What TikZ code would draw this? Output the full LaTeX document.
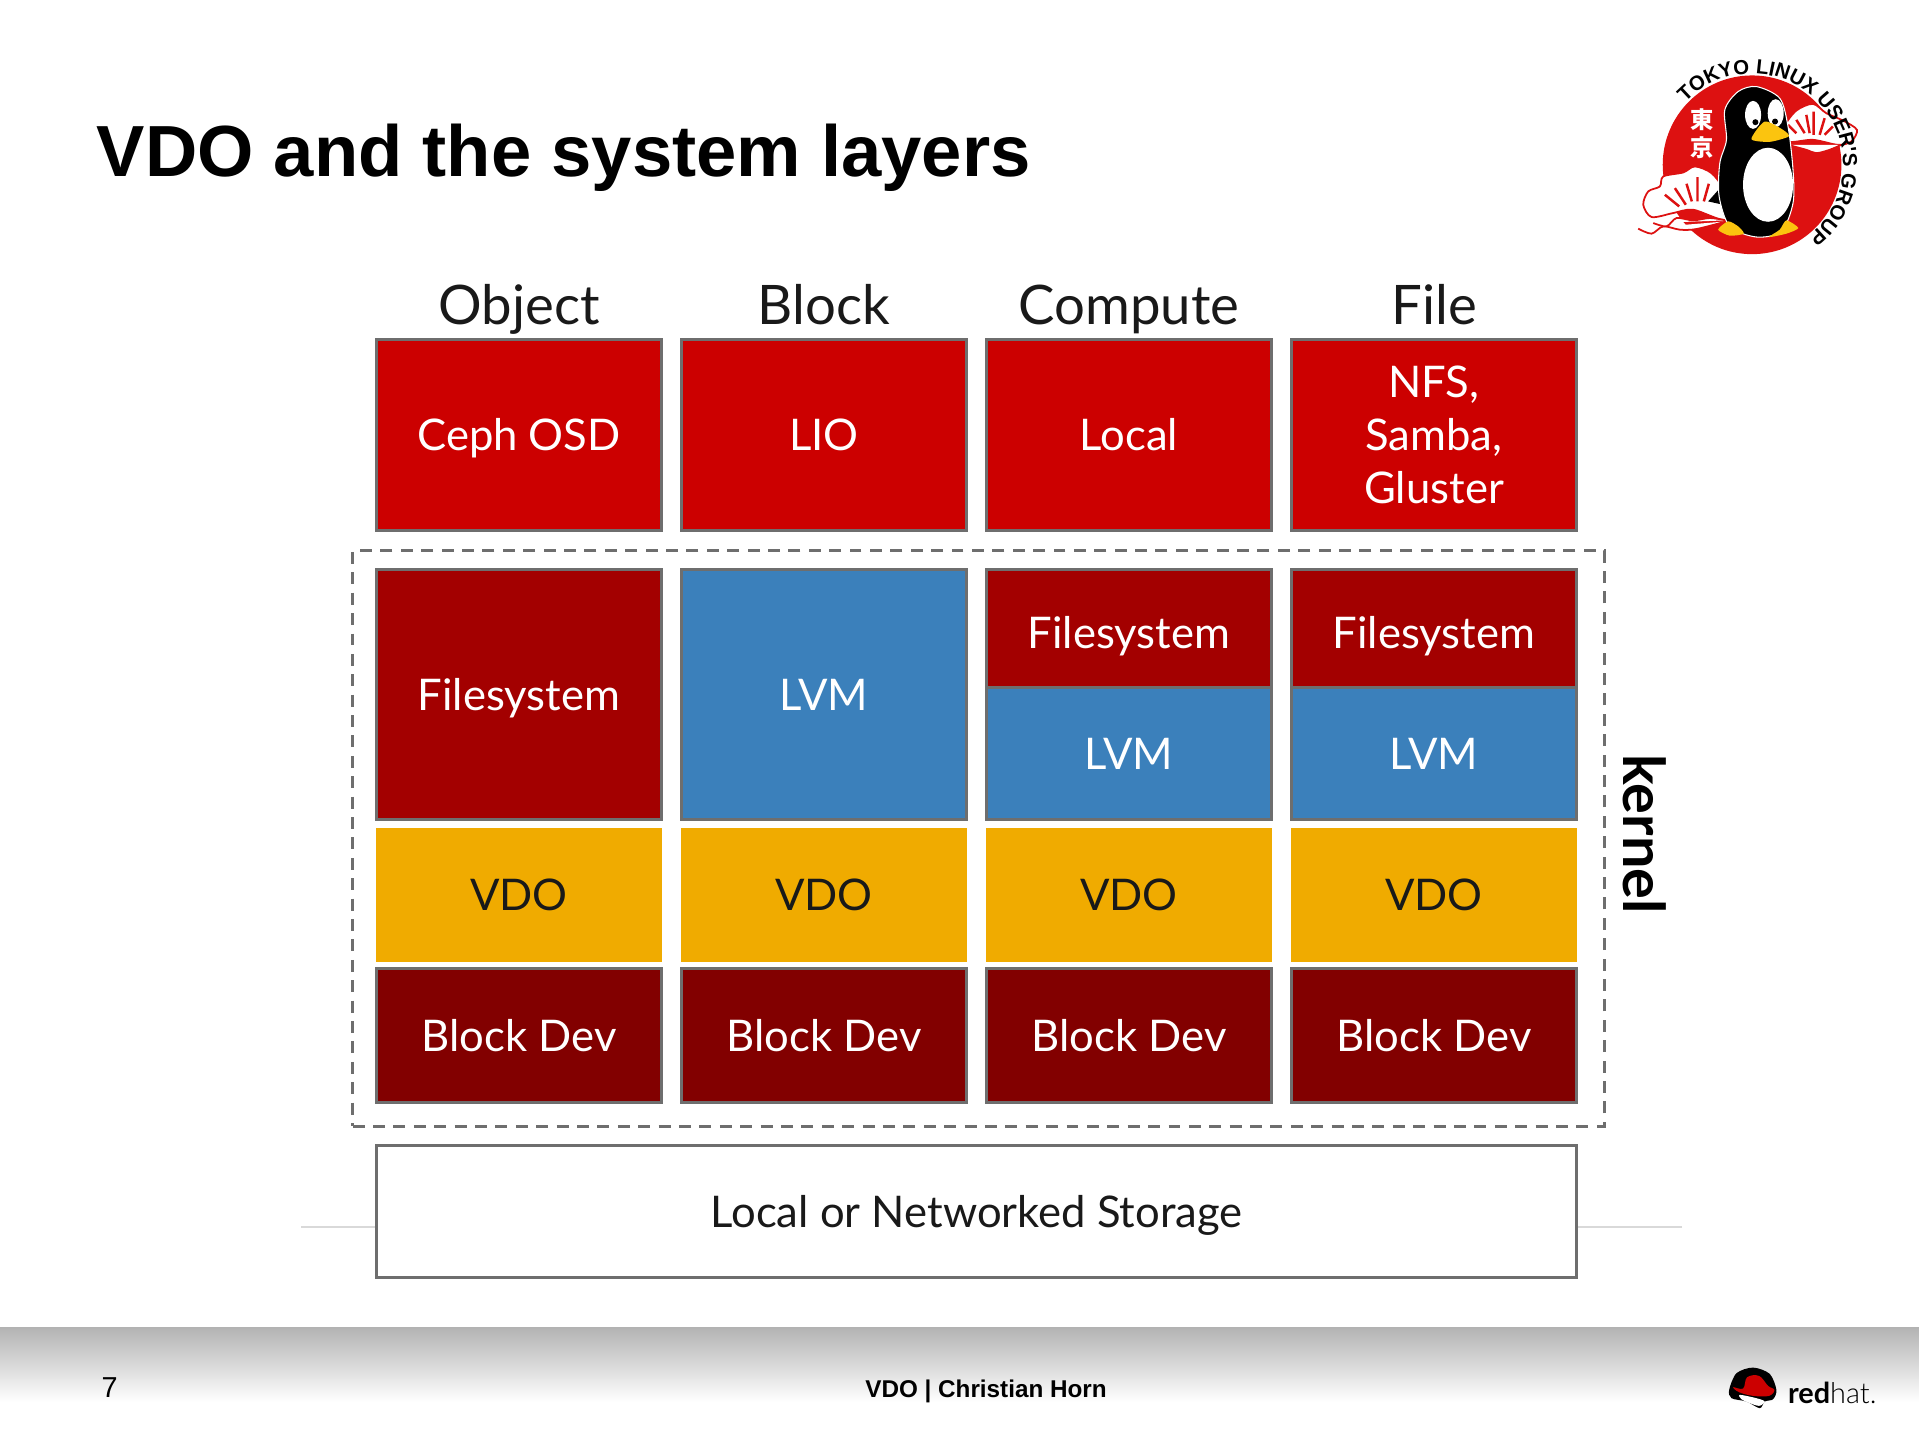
\documentclass[tikz,border=0pt]{standalone}
\usepackage{fontspec}
\usepackage{tikz}
\usetikzlibrary{decorations.text}
\setmainfont{Lato}
\newfontfamily\arialfont{Liberation Sans}
\newfontfamily\cjkfont{Noto Sans CJK JP}
\newfontfamily\hatfont{Lato Light}
\definecolor{redtop}{HTML}{CC0000}
\definecolor{redfs}{HTML}{A30000}
\definecolor{redblock}{HTML}{820000}
\definecolor{bluelvm}{HTML}{3B80BB}
\definecolor{yellowvdo}{HTML}{F0AB00}
\definecolor{edgegrey}{HTML}{6E6E6E}
\definecolor{logored}{HTML}{DD1111}
\definecolor{logoyellow}{HTML}{FBC40F}
\tikzstyle{stackblock} = [rectangle, draw=edgegrey, line width=0.85pt, text=white, inner sep=0pt,
    minimum width=2.84cm, align=center, font=\fontsize{12.4}{15}\selectfont]
\tikzstyle{layerblock} = [stackblock, text height=8.9pt, text depth=0pt]
\tikzstyle{vdoblock} = [layerblock, draw=none, text=black!90, fill=yellowvdo, minimum width=2.86cm, minimum height=1.34cm]
\tikzstyle{headlabel} = [anchor=base, inner sep=0pt, font=\fontsize{15.5}{18}\selectfont, text=black!90]
\tikzstyle{hairline} = [draw=black!15, line width=0.5pt]
\tikzstyle{logocloud} = [fill=white, draw=logored, line width=0.5pt]
\tikzstyle{logoray} = [draw=logored, line width=0.7pt]
\begin{document}
\begin{tikzpicture}[x=0.01cm,y=-0.01cm]
    \useasboundingbox (0,0) rectangle (1919,1439);
    \shade [top color=black!30, bottom color=white] (0,1327) rectangle (1919,1402);
    \node [anchor=base west, inner sep=0pt, font=\arialfont\bfseries\fontsize{20.6}{24}\selectfont] (title) at (96,176.5) {VDO and the system layers};

    % Column heads
    \node [headlabel] (headobject) at (519,324) {Object};
    \node [headlabel] (headblock) at (824,324) {Block};
    \node [headlabel] (headcompute) at (1129,324) {Compute};
    \node [headlabel] (headfile) at (1434,324) {File};

    % Top row
    \node [layerblock, fill=redtop, minimum height=1.9cm] (cephosd) at (519,435) {Ceph OSD};
    \node [layerblock, fill=redtop, minimum height=1.9cm] (lio) at (824,435) {LIO};
    \node [layerblock, fill=redtop, minimum height=1.9cm] (local) at (1129,435) {Local};
    \node [stackblock, fill=redtop, minimum height=1.9cm] (nfs) at (1434,435) {NFS,\\Samba,\\Gluster};

    % Kernel frame
    \node [rectangle, draw=edgegrey, line width=0.85pt, dash pattern=on 3.4pt off 2.4pt, minimum width=12.51cm, minimum height=5.75cm, inner sep=0pt] (kernelframe) at (978.5,838.5) {};
    \node [rotate=-90, font=\fontsize{16.4}{19}\selectfont\bfseries] (kernel) at (1645,834) {kernel};

    % Middle rows
    \node [layerblock, fill=redfs, minimum height=2.49cm] (fsobject) at (519,694.5) {Filesystem};
    \node [layerblock, fill=bluelvm, minimum height=2.49cm] (lvmblock) at (824,694.5) {LVM};
    \node [layerblock, fill=redfs, minimum height=1.26cm] (fscompute) at (1129,633) {Filesystem};
    \node [layerblock, fill=bluelvm, minimum height=1.31cm] (lvmcompute) at (1129,753.5) {LVM};
    \node [layerblock, fill=redfs, minimum height=1.26cm] (fsfile) at (1434,633) {Filesystem};
    \node [layerblock, fill=bluelvm, minimum height=1.31cm] (lvmfile) at (1434,753.5) {LVM};

    % VDO row
    \node [vdoblock] (vdoobject) at (519,895) {VDO};
    \node [vdoblock] (vdoblock) at (824,895) {VDO};
    \node [vdoblock] (vdocompute) at (1129,895) {VDO};
    \node [vdoblock] (vdofile) at (1434,895) {VDO};

    % Block devices
    \node [layerblock, fill=redblock, minimum height=1.33cm] (devobject) at (519,1035.5) {Block Dev};
    \node [layerblock, fill=redblock, minimum height=1.33cm] (devblock) at (824,1035.5) {Block Dev};
    \node [layerblock, fill=redblock, minimum height=1.33cm] (devcompute) at (1129,1035.5) {Block Dev};
    \node [layerblock, fill=redblock, minimum height=1.33cm] (devfile) at (1434,1035.5) {Block Dev};

    % Storage and its lines
    \coordinate (lineleft) at (301,1227);
    \coordinate (lineright) at (1682,1227);
    \node [layerblock, text=black!90, fill=white, minimum width=11.99cm, minimum height=1.31cm] (storage) at (976.5,1211.5) {Local or Networked Storage};
    \path [hairline] (lineleft) -- (lineleft -| storage.west);
    \path [hairline] (lineright) -- (lineright -| storage.east);

    % Footer
    \node [anchor=base west, inner sep=0pt, font=\arialfont\fontsize{8.2}{10}\selectfont] (pagenumber) at (101,1397) {7};
    \node [inner sep=0pt, font=\arialfont\bfseries\fontsize{6.9}{9}\selectfont] (footer) at (986,1391) {VDO | Christian Horn};

    % Tokyo logo, in units of the logo crop
    \begin{scope}[shift={(1580,30)},x=0.003333cm,y=-0.003333cm]
        \fill [logored] (517,405) circle (0.893cm);
        \path [logocloud] plot [smooth cycle] coordinates {(190,525) (205,485) (240,470) (250,440) (310,428) (345,410) (395,430) (430,480) (440,570) (340,540) (280,550) (215,562)};
        \path [logocloud] plot [smooth] coordinates {(175,597) (215,612) (250,590) (300,600) (350,598) (440,575)};
        \path [logocloud] plot [smooth] coordinates {(220,580) (260,590) (290,565) (340,572) (390,565) (440,572)};
        \path [logoray] (298,530) -- (255,495) (318,525) -- (285,475) (336,515) -- (320,462) (353,515) -- (353,442) (372,515) -- (387,462);
        \path [logocloud] plot [smooth cycle] coordinates {(615,290) (650,242) (700,222) (740,250) (790,272) (832,300) (815,335) (775,345) (700,330) (625,335)};
        \path [logocloud] plot [smooth] coordinates {(625,345) (680,360) (710,370) (750,360) (785,345)};
        \path [logoray] (625,285) -- (650,310) (650,270) -- (675,310) (680,255) -- (690,310) (702,245) -- (702,315) (735,265) -- (720,315) (760,290) -- (735,315);
        \fill [black] (385,515) -- (425,470) -- (430,525) -- cycle;
        \path [fill=black, draw=white, line width=0.3pt] plot [smooth cycle] coordinates {(530,170) (600,205) (625,290) (640,420) (640,520) (605,605) (530,622) (450,590) (418,500) (420,400) (440,330) (435,240) (475,185)};
        \fill [white] (565,465) ellipse [x radius=0.25cm, y radius=0.37cm];
        \fill [white] (520,255) ellipse [x radius=0.08cm, y radius=0.14cm];
        \fill [white] (588,250) ellipse [x radius=0.08cm, y radius=0.14cm];
        \fill [black] (527,277) circle (0.03cm);
        \fill [black] (586,275) circle (0.03cm);
        \fill [logoyellow] plot [smooth cycle, tension=0.4] coordinates {(515,328) (555,275) (610,300) (627,320) (570,336)};
        \fill [logoyellow] plot [smooth cycle, tension=0.4] coordinates {(415,600) (445,575) (475,590) (492,612) (450,618)};
        \fill [logoyellow] plot [smooth cycle, tension=0.4] coordinates {(568,622) (600,600) (620,572) (656,595) (620,612)};
        \node [text=white, inner sep=0pt, font=\cjkfont\bfseries\fontsize{6.6}{8}\selectfont] (kanjitou) at (368,268) {東};
        \node [text=white, inner sep=0pt, font=\cjkfont\bfseries\fontsize{6.6}{8}\selectfont] (kanjikyou) at (368,353) {京};
        \path [postaction={decorate}, decoration={text along path, text={|\arialfont\bfseries\fontsize{5.8}{7}\selectfont|TOKYO LINUX USER'S GROUP}}] (517,405) ++(137:0.91cm) arc [start angle=137, end angle=-75, radius=0.91cm];
    \end{scope}

    % Red Hat logo, in units of the footer crop
    \begin{scope}[shift={(1600,1300)},x=0.003333cm,y=-0.003333cm]
        \fill [black] plot [smooth cycle] coordinates {(388,270) (410,220) (460,203) (510,222) (530,270) (520,298) (495,305) (480,325) (440,305) (395,295)};
        \fill [white] plot [smooth cycle, tension=0.5] coordinates {(420,285) (470,295) (495,305) (478,318) (445,308) (425,298)};
        \fill [red!80!black] plot [smooth cycle, tension=0.6] coordinates {(400,262) (430,266) (442,232) (478,228) (505,258) (524,270) (508,288) (460,288) (418,277)};
        \node [anchor=base west, inner sep=0pt, font=\hatfont\fontsize{8.2}{10}\selectfont] (redhat) at (563,310) {{\fontspec{Lato}\bfseries red}hat.};
    \end{scope}
\end{tikzpicture}
\end{document}
